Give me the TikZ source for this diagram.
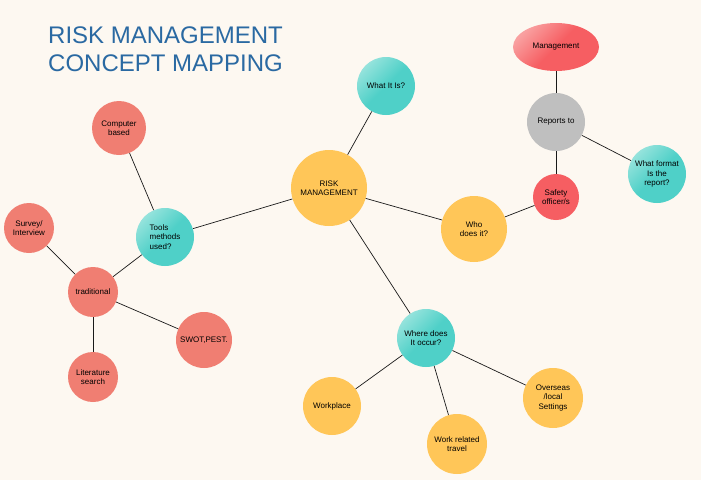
\documentclass[tikz,border=0pt]{standalone}
\usepackage{fontspec}
\setmainfont{Liberation Sans}
\usetikzlibrary{shapes.geometric}
\definecolor{paper}{HTML}{FDF8F1}
\definecolor{sun}{HTML}{FFC658}
\definecolor{aqua}{HTML}{4FD0C8}
\definecolor{aqualt}{HTML}{95E3DC}
\definecolor{coral}{HTML}{F07E72}
\definecolor{tomato}{HTML}{F65E62}
\definecolor{tomatolt}{HTML}{F9A0A0}
\definecolor{ash}{HTML}{BFBFBF}
\definecolor{ink}{HTML}{2A69A2}
\tikzset{every node/.style={font=\fontsize{8}{9.5}\selectfont},
  bub/.style={circle,minimum size=#1,inner sep=0pt,align=center},
  yel/.style={bub=#1,fill=sun},
  cyan/.style={bub=#1,shading=axis,top color=aqualt,bottom color=aqua,middle color=aqua,shading angle=45},
  sal/.style={bub=#1,fill=coral},
  link/.style={line width=.7pt,black!90}}

\begin{document}
\begin{tikzpicture}[x=1pt,y=-1pt]
\fill[paper] (0,0) rectangle (701,480);
\node[anchor=base west,inner sep=0,text=ink,font=\fontsize{24}{28}\selectfont] (t1) at (48,43) {RISK MANAGEMENT};
\node[anchor=base west,inner sep=0,text=ink,font=\fontsize{24}{28}\selectfont] (t2) at (48,71) {CONCEPT MAPPING};
% centre
\node[yel=76pt] (risk) at (329,188) {RISK\\MANAGEMENT};
\node[cyan=58pt] (what) at (386,86) {What It Is?};
% who
\node[yel=66pt] (who) at (474,229) {Who\\does it?};
\node[bub=46pt,fill=tomato] (safe) at (556,197) {Safety\\officer/s};
\node[bub=58pt,fill=ash] (rep) at (556,122) {Reports to};
\node[ellipse,minimum width=86pt,minimum height=48pt,inner sep=0pt,shading=axis,top color=tomatolt,bottom color=tomato,middle color=tomato,shading angle=45] (mgmt) at (556,47) {Management};
\node[cyan=58pt] (fmt) at (657,174) {What format\\Is the\\report?};
% tools
\node[cyan=58pt,align=left] (tools) at (165,237) {Tools\\methods\\used?};
\node[sal=54pt] (comp) at (119,128) {Computer\\based};
\node[sal=50pt] (trad) at (93,292) {traditional};
\node[sal=50pt] (surv) at (29,228) {Survey/\\Interview};
\node[sal=56pt] (swot) at (204,340) {SWOT,PEST.};
\node[sal=50pt] (lit) at (93,377) {Literature\\search};
% where
\node[cyan=58pt] (where) at (426,338) {Where does\\It occur?};
\node[yel=58pt] (work) at (332,406) {Workplace};
\node[yel=60pt] (trav) at (457,444) {Work related\\travel};
\node[yel=60pt] (over) at (553,398) {Overseas\\/local\\Settings};
% links
\draw[link] (risk)--(what);\draw[link] (risk)--(tools);\draw[link] (risk)--(who);\draw[link] (risk)--(where);
\draw[link] (who)--(safe);\draw[link] (safe)--(rep);\draw[link] (rep)--(mgmt);\draw[link] (rep)--(fmt);
\draw[link] (tools)--(comp);\draw[link] (tools)--(trad);
\draw[link] (trad)--(surv);\draw[link] (trad)--(swot);\draw[link] (trad)--(lit);
\draw[link] (where)--(work);\draw[link] (where)--(trav);\draw[link] (where)--(over);
\end{tikzpicture}
\end{document}
